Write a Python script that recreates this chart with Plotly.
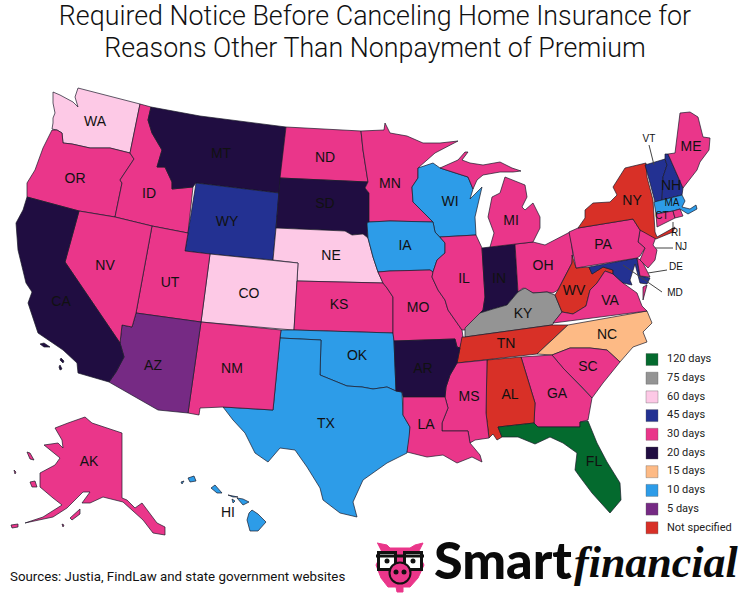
import plotly.graph_objects as go

TITLE_LINES = ["Required Notice Before Canceling Home Insurance for", "Reasons Other Than Nonpayment of Premium"]
SOURCE = "Sources: Justia, FindLaw and state government websites"

categories = ["120 days", "75 days", "60 days", "45 days", "30 days", "20 days",
              "15 days", "10 days", "5 days", "Not specified"]
category_colors = ["#046A2E", "#949494", "#FDC9E6", "#233192", "#EA368A", "#200D41",
                   "#FDBA85", "#2D9CE8", "#762A84", "#D83027"]
state_category = {
    "FL": "120 days", "KY": "75 days",
    "WA": "60 days", "NE": "60 days", "CO": "60 days",
    "WY": "45 days", "VT": "45 days", "NH": "45 days", "MD": "45 days",
    "OR": "30 days", "ID": "30 days", "ND": "30 days", "MN": "30 days", "NV": "30 days", "UT": "30 days",
    "KS": "30 days", "NM": "30 days", "MO": "30 days", "IL": "30 days", "MI": "30 days", "OH": "30 days",
    "PA": "30 days", "NJ": "30 days", "DE": "30 days", "VA": "30 days", "SC": "30 days", "GA": "30 days",
    "MS": "30 days", "LA": "30 days", "ME": "30 days", "CT": "30 days", "RI": "30 days", "AK": "30 days",
    "CA": "20 days", "MT": "20 days", "SD": "20 days", "IN": "20 days", "AR": "20 days",
    "NC": "15 days",
    "WI": "10 days", "IA": "10 days", "OK": "10 days", "TX": "10 days", "MA": "10 days", "HI": "10 days",
    "AZ": "5 days",
    "NY": "Not specified", "WV": "Not specified", "TN": "Not specified", "AL": "Not specified",
}

# State outlines, in picture units
outlines = {
 "WA": [[(53,92),(60,95),(73,102),(78,107),(75,97),(78,88),(140,104),(130,153),(110,148),(90,148),(72,144),(63,143),(62,133),(57,130),(52,129),(53,123),(53,118),(55,113),(53,103)]],
 "OR": [[(52,130),(57,130),(62,133),(63,143),(72,144),(90,148),(110,148),(130,153),(134,159),(120,180),(122,183),(115,217),(79,211),(27,197),(27,183),(35,170),(43,148)]],
 "ID": [[(140,104),(151,107),(148,120),(152,133),(162,150),(157,167),(165,167),(172,182),(172,189),(193,187),(188,233),(152,226),(115,217),(122,183),(120,180),(134,159),(130,153)]],
 "MT": [[(151,107),(200,116),(286,127),(279,193),(196,183),(193,187),(172,189),(172,182),(165,167),(157,167),(162,150),(152,133),(148,120)]],
 "WY": [[(196,183),(279,193),(276,228),(273,260),(210,254),(185,251),(188,233)]],
 "ND": [[(286,127),(361,131),(363,150),(368,182),(280,178)]],
 "SD": [[(280,178),(368,182),(365,188),(369,193),(369,222),(367,223),(368,238),(363,234),(352,235),(345,231),(276,228)]],
 "NE": [[(276,228),(345,231),(352,235),(363,234),(368,238),(373,257),(378,272),(383,283),(297,281),(298,263),(273,260)]],
 "CO": [[(210,254),(273,260),(298,263),(297,281),(294,330),(281,329),(201,322)]],
 "KS": [[(297,281),(383,283),(387,288),(393,297),(393,333),(294,330)]],
 "OK": [[(281,330),(294,330),(393,333),(394,341),(396,391),(387,387),(373,389),(362,387),(347,386),(330,379),(320,375),(321,340),(280,338)]],
 "TX": [[(280,338),(321,340),(320,375),(330,379),(347,386),(362,387),(373,389),(387,387),(396,391),(402,392),(403,415),(410,427),(410,437),(407,453),(387,463),(363,480),(357,493),(353,502),(357,517),(340,513),(323,500),(320,488),(307,467),(295,450),(280,448),(268,462),(255,453),(245,433),(233,420),(223,407),(273,410)]],
 "NM": [[(201,322),(281,330),(280,338),(273,410),(223,407),(200,408),(199,415),(188,413)]],
 "UT": [[(152,226),(188,233),(185,251),(210,254),(201,322),(136,313)]],
 "AZ": [[(136,313),(201,322),(188,413),(158,410),(109,382),(116,372),(124,357),(120,343),(122,325),(132,327)]],
 "NV": [[(79,211),(115,217),(152,226),(136,313),(132,327),(122,325),(120,343),(65,262)]],
 "CA": [[(27,197),(79,211),(65,262),(120,343),(124,357),(116,372),(109,382),(78,373),(77,363),(63,350),(38,333),(28,303),(32,292),(26,283),(18,250),(16,223),(23,210)],
        [(40,344),(44,343),(50,347),(44,347)], [(61,358),(64,361),(63,363),(60,360)], [(60,365),(62,369),(60,370),(59,367)]],
 "AK": [[(85,417),(92,423),(113,430),(122,433),(122,498),(127,500),(135,508),(142,503),(157,523),(165,527),(165,535),(153,533),(143,520),(133,511),(123,502),(103,497),(90,503),(82,503),(90,492),(83,492),(67,508),(53,517),(25,523),(43,517),(62,505),(53,498),(40,487),(40,473),(55,465),(60,458),(50,450),(44,445),(58,443),(63,448),(62,440),(55,428),(68,423)],
        [(27,452),(30,453),(34,460),(30,459)], [(30,482),(35,481),(37,487),(32,487)], [(70,518),(80,509),(80,514),(72,520)], [(11,525),(18,524),(18,527),(12,528)], [(14,470),(16,472),(15,474)], [(62,524),(64,525),(63,527)]],
 "HI": [[(211,488),(215,485),(222,493),(217,493)], [(228,495),(238,497),(233,497)], [(232,499),(235,501),(233,503)], [(237,498),(243,499),(249,502),(243,505)], [(249,513),(252,510),(258,514),(266,522),(258,531),(250,531),(247,520)], [(188,478),(194,476),(196,481),(190,482)], [(181,482),(184,481),(182,484)]],
 "MN": [[(361,131),(384,130),(385,123),(390,133),(407,136),(423,143),(440,143),(458,141),(435,153),(418,168),(418,178),(412,187),(413,202),(433,222),(390,221),(369,222),(369,193),(365,188),(368,182),(363,150)]],
 "WI": [[(418,168),(433,163),(440,168),(468,177),(473,189),(470,199),(482,187),(475,217),(476,235),(440,237),(435,232),(433,222),(413,202),(412,187),(418,178)]],
 "IA": [[(367,223),(369,222),(390,221),(433,222),(435,232),(440,237),(445,243),(445,253),(437,260),(433,272),(430,270),(390,271),(378,272),(373,257),(368,238)]],
 "MO": [[(378,272),(390,271),(430,270),(433,272),(432,277),(438,290),(445,300),(448,310),(462,330),(463,337),(460,348),(457,347),(455,339),(394,341),(393,333),(393,297),(387,288),(383,283)]],
 "IL": [[(440,237),(476,235),(482,248),(485,297),(483,310),(480,313),(475,323),(465,330),(462,330),(448,310),(445,300),(438,290),(432,277),(433,272),(437,260),(445,253),(445,243)]],
 "IN": [[(482,248),(490,247),(515,244),(518,292),(507,305),(493,309),(480,313),(483,310),(485,297)]],
 "OH": [[(515,244),(533,242),(545,245),(570,232),(573,255),(572,263),(563,280),(558,290),(553,293),(547,292),(533,293),(523,288),(518,292)]],
 "MI": [[(490,247),(515,244),(533,242),(540,228),(540,217),(533,203),(525,210),(522,207),(527,197),(525,185),(505,177),(500,193),(492,197),(488,217),(494,233)],
        [(440,168),(458,160),(465,152),(468,152),(462,160),(470,163),(483,165),(500,162),(512,168),(521,171),(513,172),(500,172),(483,175),(477,180),(473,189),(468,177)]],
 "KY": [[(465,328),(480,313),(493,309),(507,305),(518,292),(525,288),(533,293),(547,292),(555,295),(562,312),(552,325),(479,335),(465,337)]],
 "TN": [[(462,337),(465,337),(479,335),(552,325),(568,325),(552,340),(537,354),(457,363),(460,348)]],
 "NC": [[(568,325),(647,311),(652,323),(643,332),(647,342),(633,347),(620,362),(607,350),(590,348),(570,348),(552,355),(537,354),(552,340)]],
 "SC": [[(552,355),(570,348),(590,348),(607,350),(620,362),(603,383),(592,398),(582,387),(563,368)]],
 "GA": [[(521,357),(552,355),(563,368),(582,387),(592,398),(588,420),(580,422),(580,427),(538,427),(534,423),(535,403)]],
 "AL": [[(487,360),(521,357),(535,403),(534,423),(498,427),(502,437),(497,440),(493,434),(489,438),(486,413)]],
 "FL": [[(498,427),(534,423),(538,427),(580,427),(580,422),(588,421),(597,443),(607,462),(620,483),(621,500),(610,513),(592,493),(580,477),(575,470),(577,453),(563,443),(550,437),(535,444),(518,437),(502,437)]],
 "MS": [[(457,363),(487,360),(486,413),(489,438),(475,440),(470,443),(468,431),(442,431),(442,423),(448,408),(445,397),(446,387),(450,375)]],
 "AR": [[(394,341),(455,339),(457,347),(460,348),(457,363),(450,375),(446,387),(445,397),(403,397),(402,392),(396,391)]],
 "LA": [[(403,397),(445,397),(448,408),(442,423),(442,431),(468,431),(470,443),(480,455),(482,462),(472,457),(457,463),(443,455),(427,457),(407,452),(409,437),(410,427),(403,415)]],
 "WV": [[(572,255),(576,268),(589,267),(592,274),(603,267),(613,270),(613,274),(605,271),(597,283),(590,290),(586,306),(573,314),(562,312),(555,295),(558,290),(563,280),(572,263)]],
 "VA": [[(647,311),(553,323),(562,312),(573,314),(586,306),(590,290),(597,283),(605,271),(613,274),(623,283),(637,293),(642,306)],
        [(647,285),(643,300),(643,287)]],
 "MD": [[(589,267),(637,258),(640,276),(650,278),(647,284),(640,283),(635,264),(630,280),(632,285),(623,283),(613,274),(613,270),(603,267),(592,274)]],
 "DE": [[(637,258),(642,261),(650,277),(640,276)]],
 "NJ": [[(640,230),(656,237),(653,245),(657,250),(655,260),(648,268),(640,260),(645,248),(638,242)]],
 "PA": [[(569,232),(578,228),(633,219),(640,230),(638,242),(645,248),(640,256),(637,258),(576,268)]],
 "NY": [[(578,228),(585,218),(585,210),(593,203),(610,202),(617,195),(613,187),(625,168),(646,163),(647,177),(653,200),(655,232),(657,237),(675,227),(673,232),(656,239),(640,230),(633,219)]],
 "VT": [[(645,165),(665,159),(667,165),(663,177),(662,200),(655,202),(650,183)]],
 "NH": [[(665,154),(668,154),(683,188),(682,195),(662,200),(663,177),(667,165),(665,159)]],
 "ME": [[(668,154),(675,153),(680,113),(690,112),(698,117),(703,137),(710,138),(709,150),(700,162),(697,170),(683,188)]],
 "MA": [[(654,202),(682,195),(685,201),(682,207),(690,209),(696,205),(697,209),(688,214),(680,209),(673,211),(656,214)]],
 "CT": [[(656,214),(673,211),(675,218),(657,227)]],
 "RI": [[(673,211),(680,209),(683,216),(675,218)]],
}

label_text = ["WA","OR","ID","MT","WY","ND","SD","MN","WI","IA","NE","NV","UT","CO","KS","MO","IL","IN","OH","MI","KY","TN","NC","SC","GA","AL","MS","LA","AR","OK","TX","NM","AZ","CA","FL","AK","HI","ME","NH","NY","PA","WV","VA"]
label_x = [95,75,149,221,227,325,325,390,450,405,331,105,170,249,339,418,464,499,543,511,523,506,607,588,557,510,469,426,423,357,326,232,153,61,594,89,228,691,671,632,603,574,610]
label_y = [122,179,194,154,222,158,204,184,202,246,256,266,283,294,305,308,279,279,266,221,314,344,335,367,394,395,397,425,369,356,424,369,366,302,462,462,513,147,186,201,245,291,301]
small_text = ["VT","MA","CT","RI","NJ","DE","MD"]
small_x = [649,672,662,676,681,676,675]
small_y = [139,203,216,233,247,267,293]
lead_x = [[649,654],[673,673],[655,673],[648,667],[623,662]]
lead_y = [[145,165],[222,228],[248,248],[273,270],[265,292]]

pig_x = [377,387,390,410,415,423,418,424,418,410,403,403,397,396,388,381,376,382]
pig_y = [543,545,548,548,545,543,553,565,578,587,587,592,592,587,587,578,565,553]

fig = go.Figure()
color_of = dict(zip(categories, category_colors))
for st, parts in outlines.items():
    xs, ys = [], []
    for p in parts:
        xs += [c[0] for c in p] + [p[0][0], None]
        ys += [c[1] for c in p] + [p[0][1], None]
    fig.add_trace(go.Scatter(x=xs, y=ys, mode="lines", fill="toself", fillcolor=color_of[state_category[st]],
                             line=dict(color="#1a1a2a", width=0.7), name=st, showlegend=False))

for lx, ly in zip(lead_x, lead_y):
    fig.add_trace(go.Scatter(x=lx, y=ly, mode="lines", line=dict(color="#444", width=1), showlegend=False, hoverinfo="skip"))

fig.add_trace(go.Scatter(x=label_x, y=label_y, text=label_text, mode="text",
                         textfont=dict(family="Liberation Sans", size=14, color="#111"), showlegend=False))
fig.add_trace(go.Scatter(x=small_x, y=small_y, text=small_text, mode="text",
                         textfont=dict(family="Liberation Sans", size=10, color="#111"), showlegend=False))

# Legend
for i, (cat, col) in enumerate(zip(categories, category_colors)):
    y = 359.5 + 18.7 * i
    fig.add_trace(go.Scatter(x=[652], y=[y], mode="markers",
                             marker=dict(symbol="square", size=12, color=col,
                                         line=dict(color="rgba(90,90,90,0.35)", width=1)),
                             showlegend=False, name=cat))
    fig.add_trace(go.Scatter(x=[667], y=[y], mode="text", text=[cat], textposition="middle right",
                             textfont=dict(family="Roboto", size=11, color="#222"), showlegend=False, hoverinfo="skip"))

# Logo
fig.add_trace(go.Scatter(x=pig_x, y=pig_y, mode="lines", fill="toself", fillcolor="#EA368A",
                         line=dict(color="#EA368A", width=1), showlegend=False, hoverinfo="skip"))
fig.add_trace(go.Scatter(x=[387,413], y=[561,561], mode="markers",
                         marker=dict(symbol="square", size=17, color="white", line=dict(color="#111", width=3)),
                         showlegend=False, hoverinfo="skip"))
fig.add_trace(go.Scatter(x=[387,413], y=[561,561], mode="markers",
                         marker=dict(size=5, color="#111"), showlegend=False, hoverinfo="skip"))
fig.add_trace(go.Scatter(x=[376,398,402,424], y=[556,556,556,556], mode="lines",
                         line=dict(color="#111", width=3), showlegend=False, hoverinfo="skip"))
fig.add_trace(go.Scatter(x=[400], y=[573], mode="markers",
                         marker=dict(size=21, color="#EA368A", line=dict(color="#111", width=2)),
                         showlegend=False, hoverinfo="skip"))
fig.add_trace(go.Scatter(x=[396,404], y=[572,572], mode="markers",
                         marker=dict(size=5, color="#111"), showlegend=False, hoverinfo="skip"))
fig.add_trace(go.Scatter(x=[434], y=[566], mode="text", text=["Smart"], textposition="middle right",
                         textfont=dict(family="Lato Black, Lato", size=52, color="#0a0a0a", weight=900), showlegend=False, hoverinfo="skip"))
fig.add_trace(go.Scatter(x=[574], y=[566], mode="text", text=["financial"], textposition="middle right",
                         textfont=dict(family="Liberation Serif", size=44, color="#0a0a0a", style="italic", weight=700), showlegend=False, hoverinfo="skip"))
fig.add_trace(go.Scatter(x=[10], y=[578], mode="text", text=[SOURCE], textposition="middle right",
                         textfont=dict(family="Roboto", size=13.3, color="#111"), showlegend=False, hoverinfo="skip"))

# Title, two lines
fig.add_trace(go.Scatter(x=[375, 375], y=[18, 50], mode="text", text=TITLE_LINES, textposition="middle center",
                         textfont=dict(family="Roboto", size=26.8, color="#111", weight=300), showlegend=False, hoverinfo="skip"))

fig.update_traces(cliponaxis=False)
fig.update_layout(
    width=750, height=610, margin=dict(l=0, r=0, t=0, b=0),
    paper_bgcolor="white", plot_bgcolor="white", showlegend=False,
    xaxis=dict(range=[0, 750], visible=False, fixedrange=True),
    yaxis=dict(range=[610, 0], visible=False, fixedrange=True),
)
fig.write_html("out.html", post_script="document.body.style.margin='0';", config={"displayModeBar": False})
